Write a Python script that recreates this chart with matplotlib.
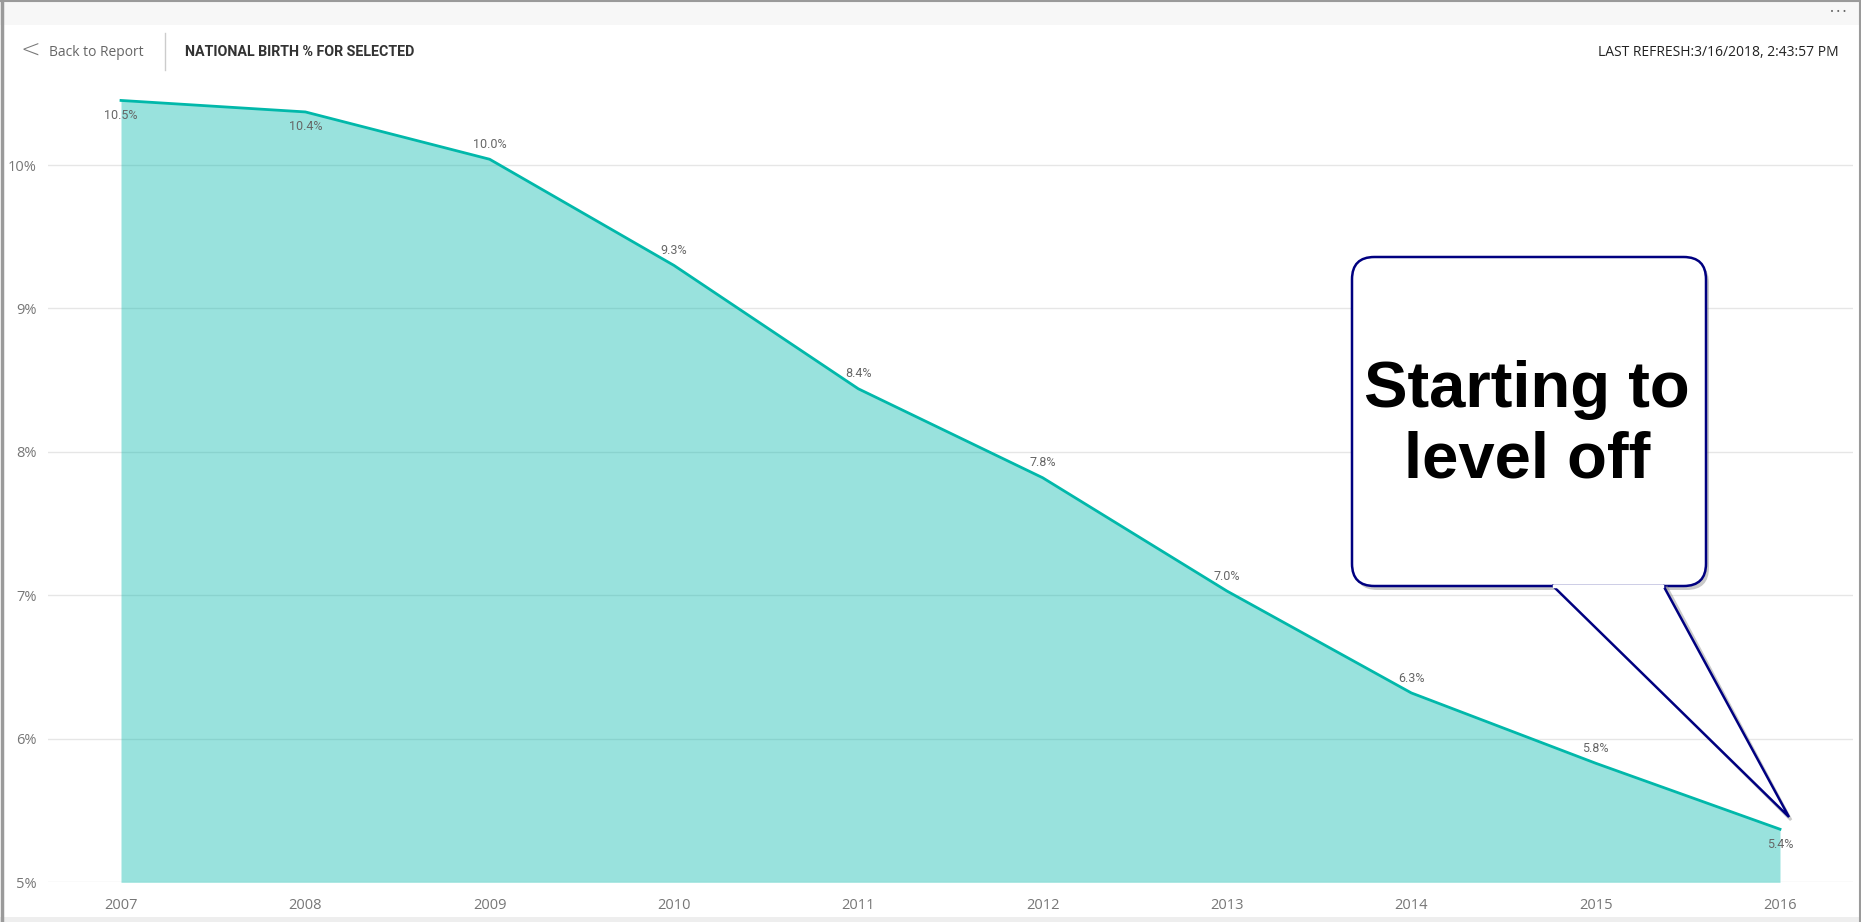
import matplotlib
matplotlib.use("Agg")
import matplotlib.pyplot as plt
from matplotlib.patches import FancyBboxPatch, Polygon, Rectangle
from matplotlib.lines import Line2D

years = [2007, 2008, 2009, 2010, 2011, 2012, 2013, 2014, 2015, 2016]
values = [10.45, 10.37, 10.04, 9.30, 8.44, 7.82, 7.03, 6.32, 5.83, 5.37]
labels = ["10.5%", "10.4%", "10.0%", "9.3%", "8.4%", "7.8%", "7.0%", "6.3%", "5.8%", "5.4%"]
label_pos = ["below", "below", "above", "above", "above", "above", "above", "above", "above", "below"]
yticks = [5, 6, 7, 8, 9, 10]
ytick_labels = ["5%", "6%", "7%", "8%", "9%", "10%"]

W, H = 1861, 922
fig = plt.figure(figsize=(W / 100, H / 100), dpi=100)
fig.patch.set_facecolor("white")

def fx(px):
    return px / W

def fy(py):
    return 1 - py / H

# top strip and borders
fig.add_artist(Rectangle((0, fy(25)), 1, 25 / H, transform=fig.transFigure,
                         facecolor="#f7f7f7", edgecolor="none", zorder=0))
fig.add_artist(Rectangle((0, 0), 1, 5 / H, transform=fig.transFigure,
                         facecolor="#eeeeee", edgecolor="none", zorder=0))
fig.add_artist(Line2D([fx(1.5), fx(1.5)], [0, 1], transform=fig.transFigure, color="#9a9a9a", lw=2.5))
fig.add_artist(Line2D([fx(1859.5), fx(1859.5)], [0, 1], transform=fig.transFigure, color="#9a9a9a", lw=1.5))
fig.add_artist(Line2D([0, 1], [fy(1), fy(1)], transform=fig.transFigure, color="#9a9a9a", lw=1.5))

# axes
left, right, top, bottom = 48, 1853, 75, 882.3
ax = fig.add_axes([fx(left), fy(bottom), fx(right - left), (bottom - top) / H])
px_per_year = (1780 - 121) / 9
ax.set_xlim(2007 - (121 - left) / px_per_year, 2016 + (right - 1780) / px_per_year)
ax.set_ylim(5, 10 + (165 - top) / 143.45)
for s in ax.spines.values():
    s.set_visible(False)
ax.set_yticks(yticks)
ax.set_yticklabels(ytick_labels)
ax.set_xticks(years)
ax.set_xticklabels([str(y) for y in years])
ax.tick_params(length=0, labelsize=10.5, labelcolor="#777777")
ax.tick_params(axis="y", pad=8)
ax.tick_params(axis="x", pad=11)
for t in ax.get_xticklabels() + ax.get_yticklabels():
    t.set_family("Open Sans")
ax.grid(axis="y", color="#e6e6e6", lw=1)
ax.set_axisbelow(True)

ax.fill_between(years, values, 5, color="#01B8AA", alpha=0.4, lw=0, zorder=2)
ax.plot(years, values, color="#01B8AA", lw=2, zorder=3)

for x, v, lab, pos in zip(years, values, labels, label_pos):
    if pos == "above":
        ax.annotate(lab, (x, v), xytext=(0, 6), textcoords="offset points",
                    ha="center", va="bottom", fontsize=9, color="#666666", family="Roboto", zorder=4)
    else:
        ax.annotate(lab, (x, v), xytext=(0, -6), textcoords="offset points",
                    ha="center", va="top", fontsize=9, color="#666666", family="Roboto", zorder=4)

# header
fig.text(fx(30), fy(51), "<", fontsize=17, color="#777777", ha="center", va="center", family="DejaVu Sans",
         fontweight="light")
fig.text(fx(49), fy(52), "Back to Report", fontsize=10, color="#666666", ha="left", va="center", family="Open Sans")
fig.add_artist(Line2D([fx(165), fx(165)], [fy(33), fy(70)], transform=fig.transFigure, color="#cccccc", lw=1))
fig.text(fx(185), fy(52), "NATIONAL BIRTH % FOR SELECTED", fontsize=10.3, color="#333333", ha="left", va="center",
         family="Roboto", fontweight="bold")
fig.text(fx(1839), fy(52), "LAST REFRESH:3/16/2018, 2:43:57 PM", fontsize=10, color="#222222", ha="right",
         va="center", family="Open Sans")
fig.text(fx(1838), fy(12), "• • •", fontsize=5, color="#666666", ha="center", va="center")

# callout
bx0, by0, bx1, by1 = 1352, 257, 1706, 586
tip = (1789, 817)
base_l, base_r = 1552, 1663
navy = "#000080"
shadow = FancyBboxPatch((fx(bx0 + 3), fy(by1 + 4)), fx(bx1 - bx0), (by1 - by0) / H,
                        boxstyle="round,pad=0,rounding_size=0.012", transform=fig.transFigure,
                        facecolor="#888888", edgecolor="none", alpha=0.45, zorder=9,
                        mutation_aspect=W / H)
fig.add_artist(shadow)
box = FancyBboxPatch((fx(bx0), fy(by1)), fx(bx1 - bx0), (by1 - by0) / H,
                     boxstyle="round,pad=0,rounding_size=0.012", transform=fig.transFigure,
                     facecolor="white", edgecolor=navy, lw=1.8, zorder=10, mutation_aspect=W / H)
fig.add_artist(box)
tail_shadow = Polygon([(fx(base_l + 3), fy(by1)), (fx(tip[0] + 2), fy(tip[1] + 3)), (fx(base_r + 3), fy(by1))],
                      closed=False, transform=fig.transFigure, facecolor="none", edgecolor="#888888",
                      alpha=0.45, lw=2, zorder=10.5)
fig.add_artist(tail_shadow)
tail = Polygon([(fx(base_l), fy(by1 - 1)), (fx(tip[0]), fy(tip[1])), (fx(base_r), fy(by1 - 1))],
               closed=False, transform=fig.transFigure, facecolor="white", edgecolor=navy, lw=1.8, zorder=11)
fig.add_artist(tail)
fig.add_artist(Line2D([fx(base_l + 1.5), fx(base_r - 1.5)], [fy(by1), fy(by1)], transform=fig.transFigure,
                      color="white", lw=2.5, zorder=12))
fig.text(fx(1527), fy(425), "Starting to\nlevel off", fontsize=47, fontweight="bold", family="Liberation Sans",
         ha="center", va="center", color="black", linespacing=1.22, zorder=13)

fig.savefig("out.png", dpi=100)
